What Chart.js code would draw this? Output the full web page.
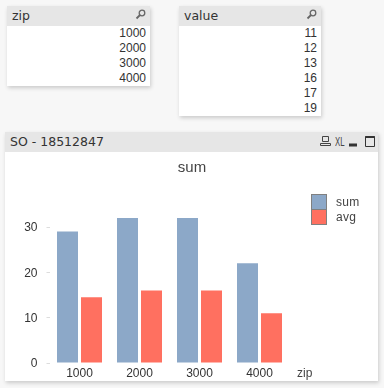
<!DOCTYPE html>
<html>
<head>
<meta charset="utf-8">
<script src="https://cdn.jsdelivr.net/npm/chart.js@4"></script>
<style>
  html, body { margin: 0; padding: 0; }
  body { width: 384px; height: 388px; background: #f7f7f7; overflow: hidden; position: relative; font-family: "Liberation Sans", Arial, sans-serif; color: #333; }
  .box { position: absolute; background: #fff; box-shadow: 1px 2px 4px rgba(0,0,0,.18); }
  .head { position: absolute; left: 0; right: 0; top: 0; height: 20px; background: #e6e6e6; font: 12.5px/20px "DejaVu Sans", sans-serif; color: #333; padding-left: 5px; box-sizing: border-box; }
  .rows { position: absolute; top: 20px; left: 0; right: 4px; text-align: right; font-size: 12px; line-height: 15px; }
  .head svg { position: absolute; }
  canvas { position: absolute; left: 0; top: 0; }
  .legend-swatch { position: absolute; left: 311px; width: 14px; height: 14px; border: 1px solid #808080; }
  .label { position: absolute; font-size: 12px; line-height: 14px; color: #444; }
</style>
</head>
<body>
<div class="box" style="left:7px;top:6px;width:143px;height:80px">
  <div class="head">zip<svg style="right:4px;top:3px" width="11" height="11" viewBox="0 0 11 11"><circle cx="7" cy="4" r="2.8" fill="none" stroke="#666" stroke-width="1.3"/><path d="M5 6 L1.5 9.5" stroke="#666" stroke-width="1.8"/></svg></div>
  <div class="rows" id="zipRows"></div>
</div>
<div class="box" style="left:179px;top:6px;width:142px;height:110px">
  <div class="head">value<svg style="right:4px;top:3px" width="11" height="11" viewBox="0 0 11 11"><circle cx="7" cy="4" r="2.8" fill="none" stroke="#666" stroke-width="1.3"/><path d="M5 6 L1.5 9.5" stroke="#666" stroke-width="1.8"/></svg></div>
  <div class="rows" id="valueRows"></div>
</div>
<div class="box" style="left:5px;top:132px;width:373px;height:249px">
  <div class="head">SO - 18512847
    <svg style="left:315px;top:3px" width="11" height="12" viewBox="0 0 11 12"><path d="M2.5 1.5 H8.5 V6.5 H2.5 Z M0.5 8.5 H10.5 V10.5 H0.5 Z" fill="none" stroke="#444"/></svg>
    <span style="position:absolute;left:330px;top:0;font:13px/20px 'Liberation Sans',sans-serif;color:#444;transform:scaleX(.6);transform-origin:left">XL</span>
    <svg style="left:344px;top:2px" width="28" height="14" viewBox="0 0 28 14"><path d="M0 11 H8" stroke="#333" stroke-width="3"/><path d="M16.5 2.5 H25.5 V12.5 H16.5 Z" fill="none" stroke="#333"/><path d="M16.5 3 H25.5" stroke="#333" stroke-width="2"/></svg>
  </div>
</div>
<canvas id="chart" width="384" height="388"></canvas>
<div id="legend"></div>
<div class="label" style="left:297px;top:366px">zip</div>
<script>
const zipList = ['1000', '2000', '3000', '4000'];
const valueList = ['11', '12', '13', '16', '17', '19'];
const categories = ['1000', '2000', '3000', '4000'];
const sumValues = [29, 32, 32, 22];
const avgValues = [14.5, 16, 16, 11];
const yTicks = [0, 10, 20, 30];
const sumColor = '#8ca8c8';
const avgColor = '#ff7060';

document.getElementById('zipRows').innerHTML = zipList.map(v => `<div>${v}</div>`).join('');
document.getElementById('valueRows').innerHTML = valueList.map(v => `<div>${v}</div>`).join('');

const datasets = [
  { label: 'sum', data: sumValues, backgroundColor: sumColor },
  { label: 'avg', data: avgValues, backgroundColor: avgColor }
];

// legend swatches touch each other in the original, easier as plain html
document.getElementById('legend').innerHTML = datasets.map((d, i) =>
  `<div class="legend-swatch" style="top:${194 + i * 15}px;background:${d.backgroundColor}"></div>` +
  `<div class="label" style="left:336px;top:${195 + i * 15}px;letter-spacing:.3px">${d.label}</div>`
).join('');

new Chart(document.getElementById('chart').getContext('2d'), {
  type: 'bar',
  data: { labels: categories, datasets: datasets },
  options: {
    responsive: false,
    animation: false,
    categoryPercentage: 0.8,
    barPercentage: 0.875,
    plugins: {
      legend: { display: false },
      tooltip: { enabled: false },
      title: {
        display: true,
        text: 'sum',
        color: '#444',
        font: { family: '"Liberation Sans"', size: 15, weight: 'normal' },
        padding: { top: 159, bottom: 41 }
      }
    },
    scales: {
      x: {
        grid: { display: false, drawTicks: false },
        border: { display: false },
        ticks: { color: '#333', font: { family: '"Liberation Sans"', size: 12 }, padding: 3, maxRotation: 0 },
        afterFit: scale => { scale.height = 25; }
      },
      y: {
        min: 0,
        max: 32,
        grid: { drawOnChartArea: false, color: '#dddddd', tickLength: 3 },
        border: { display: false },
        ticks: { color: '#333', font: { family: '"Liberation Sans"', size: 12 }, padding: 9, labelOffset: 1 },
        afterBuildTicks: scale => { scale.ticks = yTicks.map(v => ({ value: v })); },
        afterFit: scale => { scale.width = 49.5; }
      },
      // empty axis only reserves the room on the right where the legend sits
      spacer: {
        position: 'right',
        grid: { display: false },
        border: { display: false },
        ticks: { display: false },
        afterFit: scale => { scale.width = 94.5; }
      }
    }
  }
});
</script>
</body>
</html>
